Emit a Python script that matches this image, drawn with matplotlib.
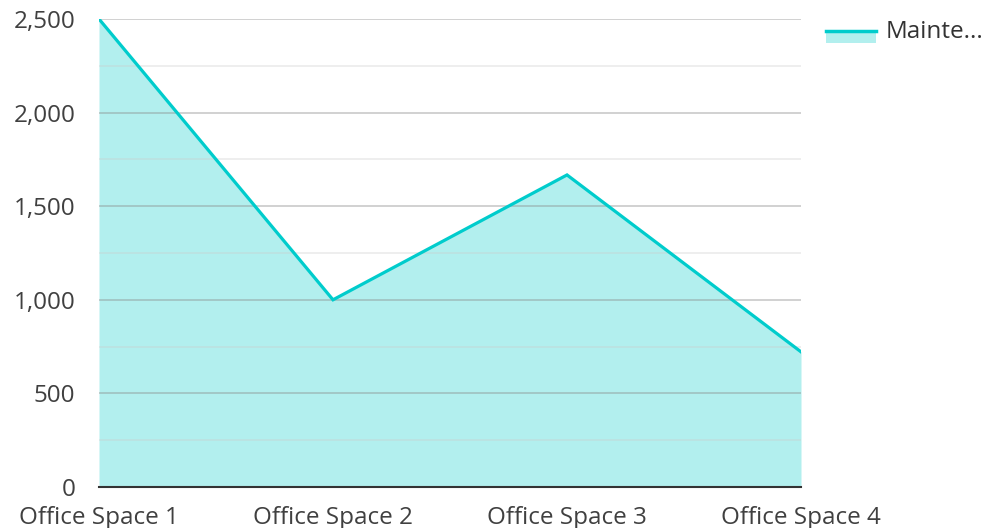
import matplotlib.pyplot as plt
from matplotlib.lines import Line2D
from matplotlib.patches import Rectangle
from matplotlib.ticker import MultipleLocator, FuncFormatter

categories = ['Office Space 1', 'Office Space 2', 'Office Space 3', 'Office Space 4']
values = [2500, 1000, 1667, 722]
series_name = 'Mainte...'

line_color = '#00cccc'
fill_color = '#b2efee'

plt.rcParams['font.family'] = ['Open Sans', 'DejaVu Sans']

W, H = 988, 528
fig = plt.figure(figsize=(W / 100, H / 100), dpi=100)
ax = fig.add_axes([99 / W, 1 - 487 / H, (801 - 99) / W, (487 - 19) / H])

x = range(len(categories))
ax.fill_between(x, values, 0, color=fill_color, linewidth=0, zorder=1)
ax.plot(x, values, color=line_color, linewidth=2.3, zorder=3, solid_joinstyle='miter')

ax.set_xlim(0, len(categories) - 1)
ax.set_ylim(0, 2500)
ax.yaxis.set_major_locator(MultipleLocator(500))
ax.yaxis.set_minor_locator(MultipleLocator(250))
ax.yaxis.set_major_formatter(FuncFormatter(lambda v, p: f'{int(v):,}'))
ax.set_xticks(list(x))
ax.set_xticklabels(categories)

ax.grid(axis='y', which='major', color='#888888', alpha=0.45, linewidth=1.2, zorder=2)
ax.grid(axis='y', which='minor', color='#cccccc', alpha=0.4, linewidth=1.2, zorder=2)
for s in ['top', 'right', 'left']:
    ax.spines[s].set_visible(False)
ax.spines['bottom'].set_color('#333333')
ax.spines['bottom'].set_linewidth(1.5)
ax.spines['bottom'].set_zorder(4)
ax.tick_params(axis='both', which='both', length=0, labelsize=17.5, labelcolor='#404040')
ax.tick_params(axis='y', pad=17)
ax.tick_params(axis='x', pad=13.5)

# legend drawn by hand
fig.add_artist(Rectangle((826 / W, 1 - 43 / H), 50 / W, 12 / H, transform=fig.transFigure,
                         facecolor=fill_color, edgecolor='none'))
fig.add_artist(Line2D([826 / W, 876 / W], [1 - 31 / H, 1 - 31 / H], transform=fig.transFigure,
                      color=line_color, linewidth=2.5))
fig.text(886 / W, 1 - 32 / H, series_name, fontsize=17.5, color='#333333', va='center', ha='left')

fig.savefig('out.png', dpi=100)
